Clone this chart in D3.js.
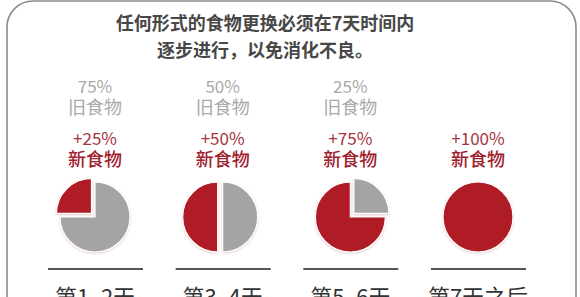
<!DOCTYPE html>
<html>
<head>
<meta charset="UTF-8">
<title>食物更换</title>
<style>
  html, body { margin: 0; padding: 0; background: #fff; }
  svg { display: block; }
  text { font-family: "Noto Sans CJK SC", "Noto Sans", sans-serif; }
</style>
</head>
<body>
<svg id="chart" width="580" height="297"></svg>
<script src="https://d3js.org/d3.v7.min.js"></script>
<script>
// data
const titleLines = ["任何形式的食物更换必须在7天时间内", "逐步进行，以免消化不良。"];
const days = ["第1–2天", "第3–4天", "第5–6天", "第7天之后"];
const oldShare = [75, 50, 25, 0];
const newShare = [25, 50, 75, 100];
const oldLabel = "旧食物", newLabel = "新食物";

const W = 580, H = 297, R = 35, pieY = 217, explode = 5;
const red = "#b01a27", grey = "#a4a4a4";

const svg = d3.select("#chart");

// rounded frame
svg.append("rect")
  .attr("x", 7).attr("y", 1).attr("width", 569).attr("height", 330)
  .attr("rx", 26).attr("ry", 26)
  .attr("fill", "#fff").attr("stroke", "#8c8c8c").attr("stroke-width", 1.6);

// soft shadow under pies
const defs = svg.append("defs");
const f = defs.append("filter").attr("id", "sh").attr("x", -0.2).attr("y", -0.2).attr("width", 1.4).attr("height", 1.4);
f.append("feDropShadow").attr("dx", 0).attr("dy", 1).attr("stdDeviation", 1.2)
  .attr("flood-color", "#c06070").attr("flood-opacity", 0.35);

// title
svg.selectAll("text.title").data(titleLines).enter().append("text")
  .attr("class", "title")
  .attr("x", 265).attr("y", (d, i) => 30 + i * 27)
  .attr("text-anchor", "middle")
  .attr("font-size", 18).attr("font-weight", "bold").attr("fill", "#474747")
  .text(d => d);

const x = d3.scalePoint().domain(days).range([95, 478]);

const cols = days.map((d, i) => ({ day: d, old: oldShare[i], neu: newShare[i] }));

const pie = d3.pie().sort(null).value(d => d.v);
const arc = d3.arc().innerRadius(0).outerRadius(R);

const g = svg.selectAll("g.col").data(cols).enter().append("g")
  .attr("class", "col")
  .attr("transform", d => `translate(${x(d.day)},0)`);

// old food labels
g.filter(d => d.old > 0).append("text")
  .attr("y", 93).attr("text-anchor", "middle")
  .attr("font-size", 17).attr("fill", "#a9a9a9")
  .text(d => d.old + "%");
g.filter(d => d.old > 0).append("text")
  .attr("y", 114).attr("text-anchor", "middle")
  .attr("font-size", 18).attr("fill", "#a9a9a9")
  .text(oldLabel);

// new food labels
g.append("text")
  .attr("y", 145).attr("text-anchor", "middle")
  .attr("font-size", 17).attr("fill", "#a6343f")
  .text(d => "+" + d.neu + "%");
g.append("text")
  .attr("y", 166).attr("text-anchor", "middle")
  .attr("font-size", 18).attr("font-weight", "500").attr("fill", "#a0202d")
  .text(newLabel);

// pies: old slice starts at 12 o'clock going clockwise, new fills the rest
g.each(function(d) {
  const slices = pie([{ k: "old", v: d.old }, { k: "new", v: d.neu }]).filter(s => s.value > 0);
  const smallKey = slices.length < 2 ? null : (d.old < d.neu ? "old" : "new");
  d3.select(this).append("g")
    .attr("transform", `translate(0,${pieY})`)
    .attr("filter", "url(#sh)")
    .selectAll("path").data(slices).enter().append("path")
    .attr("d", arc)
    .attr("fill", s => s.data.k === "old" ? grey : red)
    .attr("stroke", "#fff").attr("stroke-width", 1.2)
    .attr("transform", s => {
      if (s.data.k !== smallKey) return null;
      const a = (s.startAngle + s.endAngle) / 2;
      return `translate(${Math.sin(a) * explode},${-Math.cos(a) * explode})`;
    });
});

// rules and day labels
g.append("line")
  .attr("x1", -47).attr("x2", 48).attr("y1", 269).attr("y2", 269)
  .attr("stroke", "#555").attr("stroke-width", 2);
g.append("text")
  .attr("y", 305).attr("text-anchor", "middle")
  .attr("font-size", 22).attr("fill", "#333")
  .text(d => d.day);
</script>
</body>
</html>
